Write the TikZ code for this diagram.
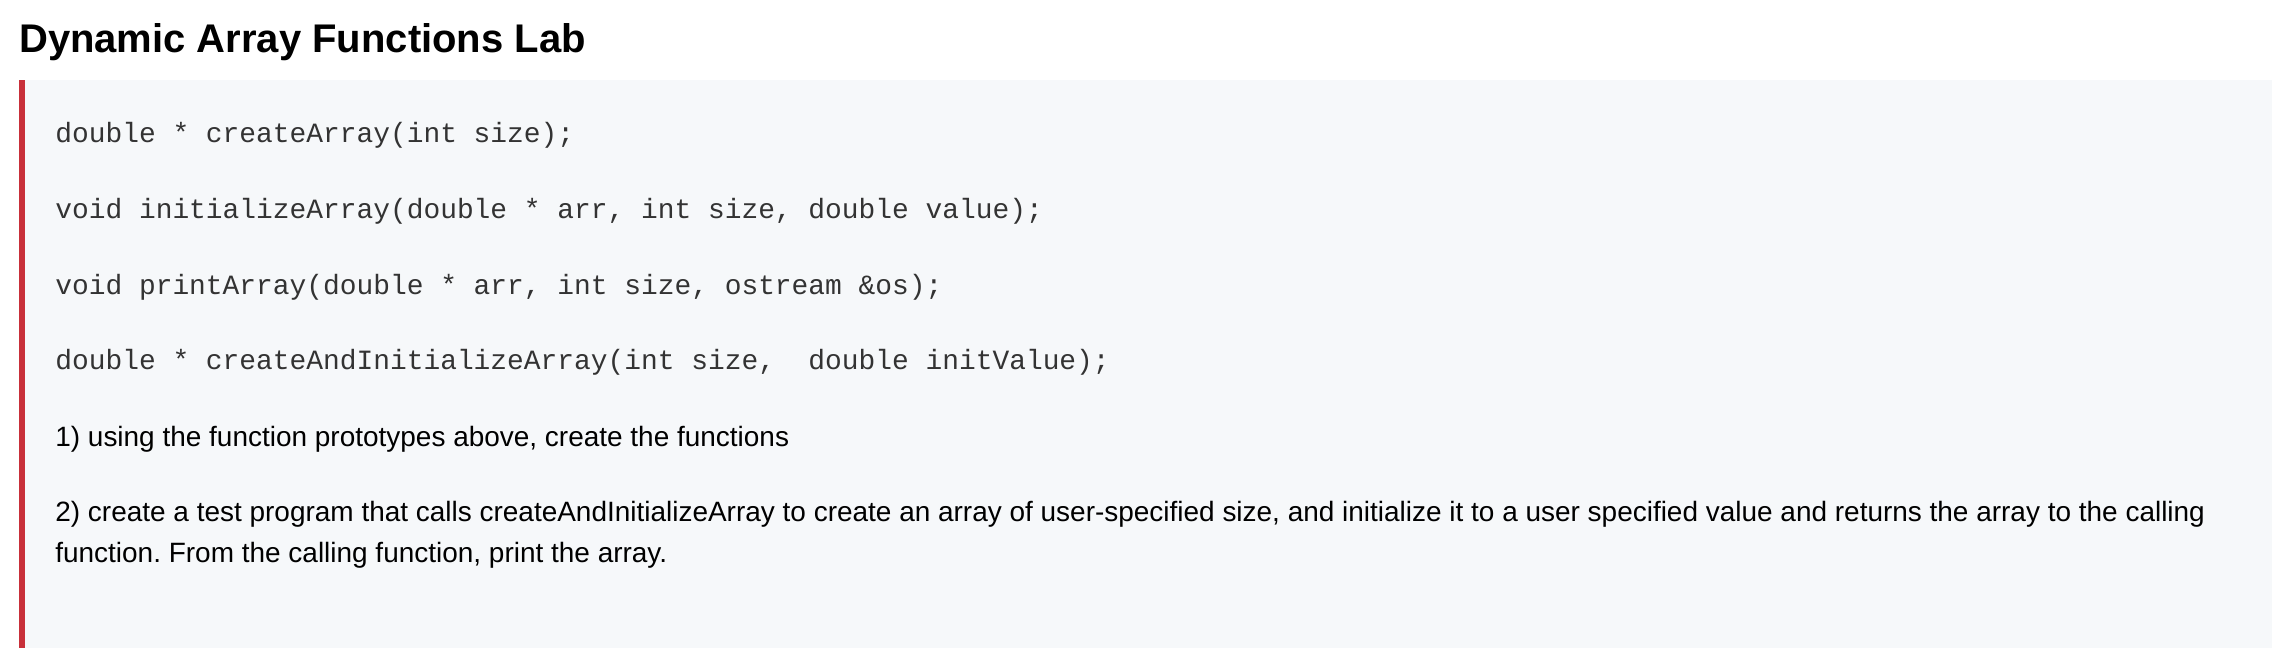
\documentclass[tikz,border=0pt]{standalone}
\usepackage{fontspec}
\setmainfont{Liberation Sans}
\setmonofont{Liberation Mono}
\definecolor{bgc}{HTML}{F6F8FA}
\definecolor{barc}{HTML}{C8303A}
\begin{document}
\frenchspacing
\begin{tikzpicture}[x=1pt,y=-1pt,
  code/.style={anchor=base west,inner sep=0pt,font=\fontsize{19.25}{22}\selectfont\ttfamily,text=black!80},
  body/.style={anchor=base west,inner sep=0pt,font=\fontsize{19.3}{22}\selectfont,text=black}]
\useasboundingbox (0,0) rectangle (1568,447);
\fill[white] (0,0) rectangle (1568,447);
\fill[bgc] (13,55) rectangle (1568,447);
\fill[barc] (13,55) rectangle (17,447);
\node[anchor=base west,inner sep=0pt,font=\fontsize{27.6}{30}\selectfont\bfseries] (title) at (13,36) {Dynamic Array Functions Lab};
\node[code] (c1) at (38,98) {double * createArray(int size);};
\node[code] (c2) at (38,151) {void initializeArray(double * arr, int size, double value);};
\node[code] (c3) at (38,203) {void printArray(double * arr, int size, ostream \&os);};
\node[code] (c4) at (38,255) {double * createAndInitializeArray(int size,\ \ double initValue);};
\node[body] (t1) at (38,308) {1) using the function prototypes above, create the functions};
\node[body] (t2) at (38,360) {2) create a test program that calls createAndInitializeArray to create an array of user-specified size, and initialize it to a user specified value and returns the array to the calling};
\node[body] (t3) at (38,388) {function. From the calling function, print the array.};
\end{tikzpicture}
\end{document}
